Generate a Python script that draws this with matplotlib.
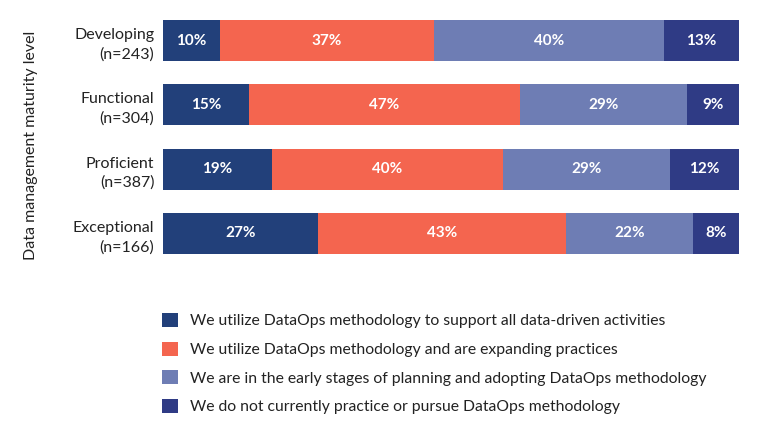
import matplotlib.pyplot as plt
import numpy as np

plt.rcParams['font.family'] = ['Lato', 'DejaVu Sans']

levels = ['Developing\n(n=243)', 'Functional\n(n=304)', 'Proficient\n(n=387)', 'Exceptional\n(n=166)']
series_names = [
    'We utilize DataOps methodology to support all data-driven activities',
    'We utilize DataOps methodology and are expanding practices',
    'We are in the early stages of planning and adopting DataOps methodology',
    'We do not currently practice or pursue DataOps methodology',
]
support_all = [10, 15, 19, 27]
expanding = [37, 47, 40, 43]
early_stages = [40, 29, 29, 22]
not_practicing = [13, 9, 12, 8]

colors = ['#22407a', '#f4654f', '#6e7db4', '#2f3b85']

fig = plt.figure(figsize=(7.68, 4.21), dpi=100)
ax = fig.add_axes([0.212, 0.369, 0.750, 0.611])

y = np.arange(len(levels))
left = np.zeros(len(levels))
handles = []
for vals, col, name in zip([support_all, expanding, early_stages, not_practicing], colors, series_names):
    vals = np.array(vals)
    bars = ax.barh(y, vals, left=left, height=0.64, color=col, label=name)
    handles.append(bars)
    for yi, l, v in zip(y, left, vals):
        ax.text(l + v / 2, yi, f'{v}%', ha='center', va='center', color='white',
                fontsize=11, fontweight='bold')
    left += vals

ax.set_xlim(0, 100)
ax.set_ylim(3.5, -0.5)
ax.set_yticks(y)
ax.set_yticklabels(levels, fontsize=11.5, color='#222222', ha='right', linespacing=1.45)
ax.tick_params(axis='y', length=0, pad=6)
ax.set_xticks([])
for s in ax.spines.values():
    s.set_visible(False)

fig.text(0.040, 0.655, 'Data management maturity level', rotation=90, ha='center', va='center',
         fontsize=11.5, color='#222222')

fig.legend(handles=handles, labels=series_names, loc='upper left', bbox_to_anchor=(0.203, 0.272),
           frameon=False, fontsize=11.3, handlelength=1.0, handleheight=1.0, labelspacing=0.85,
           handletextpad=0.8, borderaxespad=0, labelcolor='#222222')

fig.savefig('out.png', dpi=100)
